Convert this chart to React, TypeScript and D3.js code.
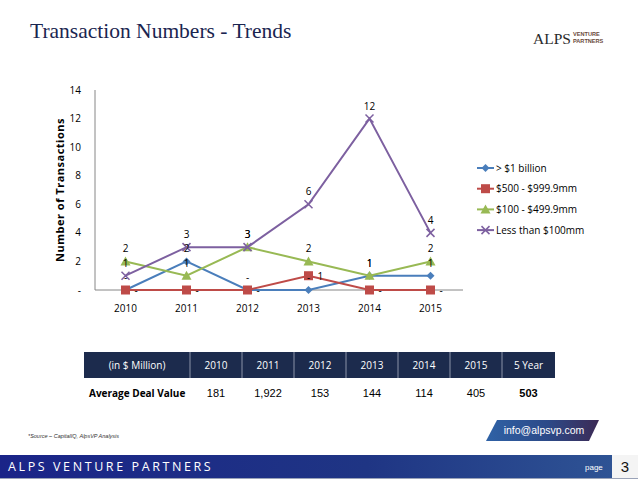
import * as d3 from "d3";

const years = ["2010", "2011", "2012", "2013", "2014", "2015"];
const overBillion = [0, 2, 0, 0, 1, 1];
const midHigh = [0, 0, 0, 1, 0, 0];
const midLow = [2, 1, 3, 2, 1, 2];
const underHundred = [1, 3, 3, 6, 12, 4];
const yTicks = [0, 2, 4, 6, 8, 10, 12, 14];

const tableHeader = ["(in $ Million)", "2010", "2011", "2012", "2013", "2014", "2015", "5 Year"];
const dealValues = ["181", "1,922", "153", "144", "114", "405", "503"];

const series = [
  { name: "> $1 billion", values: overBillion, color: "#4a7ebb", marker: "diamond", labelPos: "top" },
  { name: "$500 - $999.9mm", values: midHigh, color: "#be4b48", marker: "square", labelPos: "right" },
  { name: "$100 - $499.9mm", values: midLow, color: "#98b954", marker: "triangle", labelPos: "top" },
  { name: "Less than $100mm", values: underHundred, color: "#7d60a0", marker: "x", labelPos: "top" },
];

const W = 638;
const H = 479;
const plot = { left: 95, top: 90, width: 366, height: 200 };
const chartFont = "'Open Sans', sans-serif";

function Marker({ kind, x, y, color }: { kind: string; x: number; y: number; color: string }) {
  if (kind === "diamond") {
    return <path d={`M${x},${y - 4}L${x + 4},${y}L${x},${y + 4}L${x - 4},${y}Z`} fill={color} />;
  }
  if (kind === "square") {
    return <rect x={x - 4.5} y={y - 4.5} width={9} height={9} fill={color} />;
  }
  if (kind === "triangle") {
    return <path d={`M${x},${y - 5}L${x + 5},${y + 4}L${x - 5},${y + 4}Z`} fill={color} />;
  }
  return (
    <path
      d={`M${x - 4},${y - 4}L${x + 4},${y + 4}M${x - 4},${y + 4}L${x + 4},${y - 4}`}
      stroke={color}
      strokeWidth={1.5}
    />
  );
}

function Chart() {
  const x = d3
    .scaleBand<string>()
    .domain(years)
    .range([plot.left, plot.left + plot.width]);
  const y = d3
    .scaleLinear()
    .domain([0, 14])
    .range([plot.top + plot.height, plot.top]);
  const cx = (yr: string) => (x(yr) ?? 0) + x.bandwidth() / 2;
  const line = d3
    .line<number>()
    .x((_, i) => cx(years[i]))
    .y((d) => y(d));
  const fmt = (v: number) => (v === 0 ? "-" : String(v));

  return (
    <g fontFamily={chartFont}>
      {/* axes */}
      <line x1={plot.left} x2={plot.left} y1={plot.top} y2={y(0)} stroke="#868686" />
      <line x1={plot.left} x2={plot.left + plot.width + 2} y1={y(0)} y2={y(0)} stroke="#868686" />
      {yTicks.map((t) => (
        <text key={t} x={81} y={y(t) + 3.5} fontSize={10} textAnchor="end" fill="#000">
          {t === 0 ? "-" : t}
        </text>
      ))}
      {years.map((yr) => (
        <text key={yr} x={cx(yr)} y={312} fontSize={10} textAnchor="middle" fill="#000">
          {yr}
        </text>
      ))}
      <text
        transform={`translate(64,${plot.top + plot.height / 2}) rotate(-90)`}
        fontSize={11}
        fontWeight="bold"
        letterSpacing={0.5}
        textAnchor="middle"
      >
        Number of Transactions
      </text>

      {/* series lines and markers */}
      {series.map((s) => (
        <g key={s.name}>
          <path d={line(s.values) ?? ""} fill="none" stroke={s.color} strokeWidth={2} />
          {s.values.map((v, i) => (
            <Marker key={i} kind={s.marker} x={cx(years[i])} y={y(v)} color={s.color} />
          ))}
        </g>
      ))}

      {/* data labels */}
      {series.map((s) =>
        s.values.map((v, i) => {
          const px = cx(years[i]);
          const py = y(v);
          return s.labelPos === "right" ? (
            <text key={s.name + i} x={px + 9} y={py + 4} fontSize={10} fill="#000">
              {fmt(v)}
            </text>
          ) : (
            <text key={s.name + i} x={px} y={py - 9} fontSize={10} textAnchor="middle" fill="#000">
              {fmt(v)}
            </text>
          );
        })
      )}

      {/* legend */}
      {series.map((s, i) => {
        const ly = 168 + i * 20.7;
        return (
          <g key={s.name}>
            <line x1={477} x2={494} y1={ly} y2={ly} stroke={s.color} strokeWidth={2} />
            <Marker kind={s.marker} x={485.5} y={ly} color={s.color} />
            <text x={496} y={ly + 3.6} fontSize={10} fill="#000">
              {s.name}
            </text>
          </g>
        );
      })}
    </g>
  );
}

function DealTable() {
  const colEdges = [84, 190, 242, 294, 346, 398, 450, 502, 555];
  const top = 352;
  const headH = 26;
  return (
    <g>
      <rect x={colEdges[0]} y={top} width={colEdges[8] - colEdges[0]} height={headH} fill="#1c2b4d" />
      {colEdges.slice(1, -1).map((e) => (
        <line key={e} x1={e} x2={e} y1={top} y2={top + headH} stroke="#8a93a8" strokeWidth={1} />
      ))}
      {tableHeader.map((h, i) => (
        <text
          key={h}
          x={(colEdges[i] + colEdges[i + 1]) / 2}
          y={top + 17}
          fontSize={10}
          fill="#fff"
          textAnchor="middle"
          fontFamily={chartFont}
        >
          {h}
        </text>
      ))}
      <text x={89} y={397} fontSize={10} fontWeight="bold" fontFamily={chartFont}>
        Average Deal Value
      </text>
      {dealValues.map((v, i) => (
        <text
          key={i}
          x={(colEdges[i + 1] + colEdges[i + 2]) / 2}
          y={397}
          fontSize={11}
          textAnchor="middle"
          fontWeight={i === dealValues.length - 1 ? "bold" : "normal"}
          fontFamily="'Liberation Sans', Arial, sans-serif"
        >
          {v}
        </text>
      ))}
    </g>
  );
}

export default function App() {
  return (
    <svg
      width={W}
      height={H}
      style={{ position: "absolute", left: 0, top: 0, background: "#fff" }}
    >
      <defs>
        <linearGradient id="footer" x1="0" x2="1" y1="0" y2="0">
          <stop offset="0" stopColor="#1a2488" />
          <stop offset="0.6" stopColor="#1f3584" />
          <stop offset="1" stopColor="#2e5394" />
        </linearGradient>
        <linearGradient id="mail" x1="0" x2="1" y1="0" y2="0">
          <stop offset="0" stopColor="#2f62a6" />
          <stop offset="0.55" stopColor="#2c4a88" />
          <stop offset="1" stopColor="#3d2a55" />
        </linearGradient>
      </defs>

      {/* header */}
      <text x={30} y={38} fontSize={21.5} fontFamily="'Liberation Serif', 'Times New Roman', serif" fill="#1a2550">
        Transaction Numbers - Trends
      </text>
      <text x={533} y={44} fontSize={15.5} fontFamily="'Liberation Serif', serif" fill="#2a2a2a">
        ALPS
      </text>
      <text x={573} y={36} fontSize={5.6} fontFamily="'Liberation Sans', sans-serif" fill="#6b4a3a" fontWeight="bold">
        VENTURE
      </text>
      <text x={573} y={43} fontSize={5.6} fontFamily="'Liberation Sans', sans-serif" fill="#6b4a3a" fontWeight="bold">
        PARTNERS
      </text>

      <Chart />
      <DealTable />

      {/* footnote and contact */}
      <text x={28} y={438} fontSize={5.5} fontStyle="italic" fontFamily="'Liberation Sans', sans-serif" fill="#333">
        *Source – CapitalIQ, AlpsVP Analysis
      </text>
      <path d="M497,420L599,420L589,441L486,441Z" fill="url(#mail)" />
      <text x={544} y={434} fontSize={10.5} fill="#fff" textAnchor="middle" fontFamily="'Liberation Sans', Arial, sans-serif">
        info@alpsvp.com
      </text>

      {/* footer band */}
      <rect x={0} y={455} width={612} height={23} fill="url(#footer)" />
      <rect x={612} y={455} width={26} height={23} fill="#f4f4f4" />
      <line x1={0} x2={638} y1={478.5} y2={478.5} stroke="#9aa3b8" />
      <text x={8} y={471} fontSize={12.5} fill="#fff" letterSpacing={2.6} fontFamily={chartFont}>
        ALPS VENTURE PARTNERS
      </text>
      <text x={585} y={470} fontSize={8} fill="#fff" fontFamily="'Liberation Sans', sans-serif">
        page
      </text>
      <text x={625} y={472} fontSize={15} fill="#111" textAnchor="middle" fontFamily="'Liberation Sans', sans-serif">
        3
      </text>
    </svg>
  );
}
